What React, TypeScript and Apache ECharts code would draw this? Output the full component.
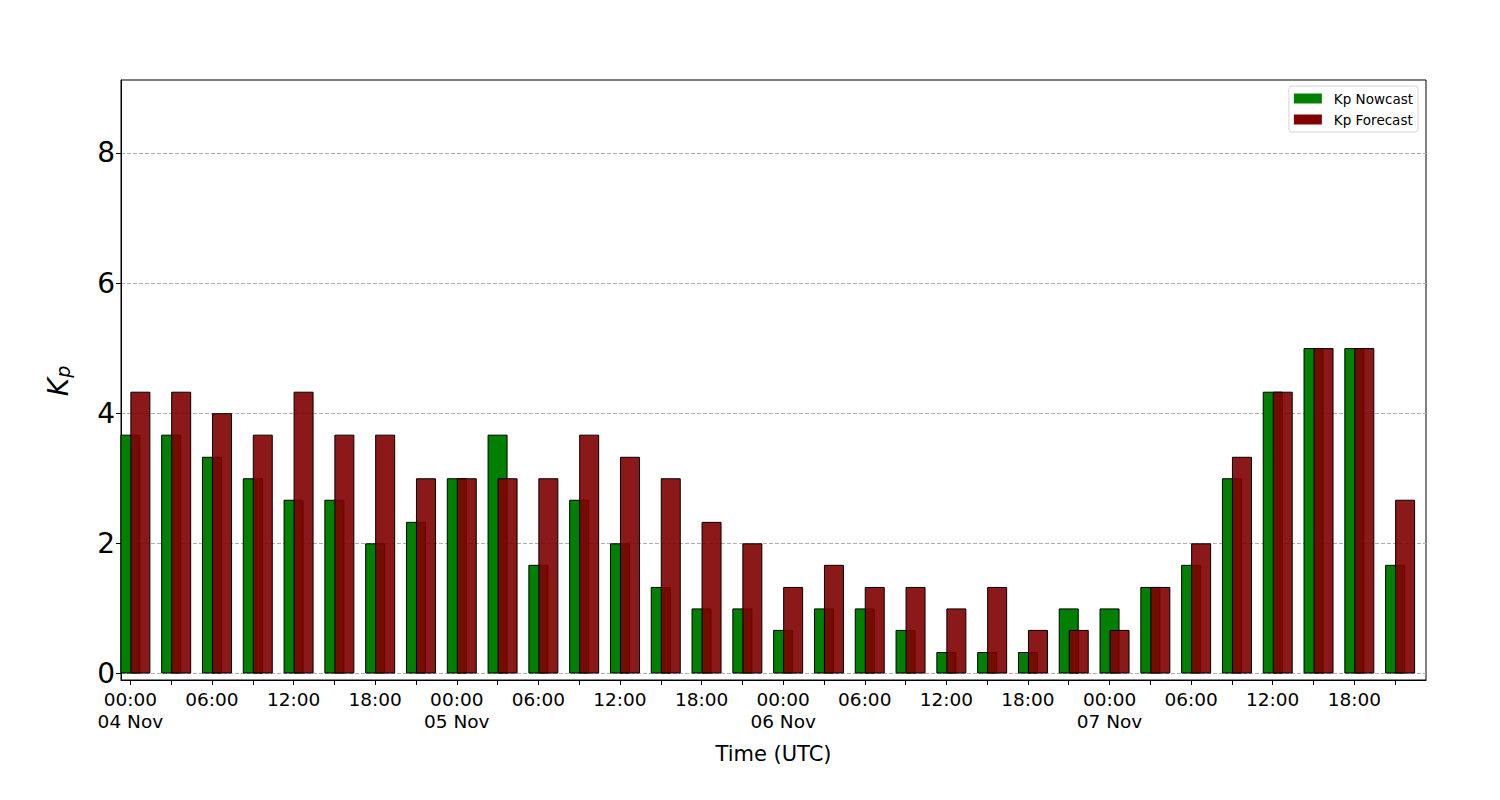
import { useEffect, useRef } from 'react'
import * as echarts from 'echarts'

// 3-hourly Kp, 04 Nov 00:00 UTC .. 07 Nov 21:00 UTC
const DAYS = ['04 Nov', '05 Nov', '06 Nov', '07 Nov']
const SLOT_HOURS = [
  0, 3, 6, 9, 12, 15, 18, 21,
  24, 27, 30, 33, 36, 39, 42, 45,
  48, 51, 54, 57, 60, 63, 66, 69,
  72, 75, 78, 81, 84, 87, 90, 93,
]
const NOWCAST = [
  3.67, 3.67, 3.33, 3.0, 2.67, 2.67, 2.0, 2.33,
  3.0, 3.67, 1.67, 2.67, 2.0, 1.33, 1.0, 1.0,
  0.67, 1.0, 1.0, 0.67, 0.33, 0.33, 0.33, 1.0,
  1.0, 1.33, 1.67, 3.0, 4.33, 5.0, 5.0, 1.67,
]
const FORECAST = [
  4.33, 4.33, 4.0, 3.67, 4.33, 3.67, 3.67, 3.0,
  3.0, 3.0, 3.0, 3.67, 3.33, 3.0, 2.33, 2.0,
  1.33, 1.67, 1.33, 1.33, 1.0, 1.33, 0.67, 0.67,
  0.67, 1.33, 2.0, 3.33, 4.33, 5.0, 5.0, 2.67,
]
const Y_TICKS = [0, 2, 4, 6, 8]
const X_LABEL_HOURS = [0, 6, 12, 18, 24, 30, 36, 42, 48, 54, 60, 66, 72, 78, 84, 90]

const FONT = 'DejaVu Sans'
const FORECAST_SHIFT = 0.735 // hours, red bars sit half a bar to the right

function hourLabel(v: number) {
  const h = Math.round(v)
  const hh = String(h % 24).padStart(2, '0') + ':00'
  if (h % 24 === 0) return hh + '\n' + DAYS[h / 24]
  return hh
}

export default function App() {
  const ref = useRef<HTMLDivElement>(null)

  useEffect(() => {
    if (!ref.current) return
    const chart = echarts.init(ref.current, undefined, { renderer: 'svg' })

    chart.setOption({
      animation: false,
      backgroundColor: '#fff',
      textStyle: { fontFamily: FONT },
      grid: {
        left: 121,
        right: 74,
        top: 80,
        bottom: 120,
        show: true,
        borderColor: '#000',
        borderWidth: 1,
        backgroundColor: 'transparent',
      },
      legend: {
        orient: 'vertical',
        right: 82,
        top: 86,
        icon: 'rect',
        itemWidth: 28,
        itemHeight: 10,
        itemGap: 6,
        padding: [5, 5, 5, 5],
        borderColor: '#d5d5d5',
        borderWidth: 1,
        borderRadius: 3,
        textStyle: {
          fontSize: 13.5,
          lineHeight: 15,
          color: '#000',
          fontFamily: FONT,
          padding: [0, 0, 0, 7],
        },
        data: [
          { name: 'Kp Nowcast', itemStyle: { color: '#008000', borderWidth: 0 } },
          { name: 'Kp Forecast', itemStyle: { color: '#800000', borderWidth: 0 } },
        ],
      },
      xAxis: {
        type: 'value',
        min: -0.69,
        max: 95.27,
        name: 'Time (UTC)',
        nameLocation: 'middle',
        nameGap: 63,
        nameTextStyle: { fontSize: 21, color: '#000', fontFamily: FONT },
        axisLine: { show: true, onZero: false, lineStyle: { color: '#000', width: 1 } },
        axisTick: {
          show: true,
          length: 5,
          lineStyle: { color: '#000' },
          customValues: SLOT_HOURS,
        },
        axisLabel: {
          customValues: X_LABEL_HOURS,
          formatter: hourLabel,
          fontSize: 18.5,
          lineHeight: 22,
          color: '#000',
          margin: 8,
          fontFamily: FONT,
        },
        splitLine: { show: false },
      },
      yAxis: {
        type: 'value',
        min: -0.1,
        max: 9.12,
        axisLine: { show: true, onZero: false, lineStyle: { color: '#000', width: 1 } },
        axisTick: {
          show: true,
          length: 5,
          lineStyle: { color: '#000' },
          customValues: Y_TICKS,
        },
        axisLabel: {
          customValues: Y_TICKS,
          fontSize: 28,
          color: '#000',
          margin: 6,
          fontFamily: FONT,
        },
        splitLine: {
          show: true,
          lineStyle: { color: '#b0b0b0', type: [4, 2], width: 1 },
        },
      },
      graphic: [
        {
          type: 'text',
          x: 58,
          y: 381,
          rotation: Math.PI / 2,
          style: {
            text: '{k|K}{p|p}',
            align: 'center',
            verticalAlign: 'middle',
            rich: {
              k: { fontSize: 28, fontStyle: 'italic', fontFamily: FONT, fill: '#000', verticalAlign: 'bottom' },
              p: {
                fontSize: 19,
                fontStyle: 'italic',
                fontFamily: FONT,
                fill: '#000',
                verticalAlign: 'bottom',
                padding: [10, 0, 0, 0],
              },
            },
          },
        },
      ],
      series: [
        {
          name: 'Kp Nowcast',
          type: 'bar',
          barWidth: 20,
          barGap: '-100%',
          clip: true,
          itemStyle: { color: '#008000', borderColor: '#000', borderWidth: 1 },
          data: SLOT_HOURS.map((h, i) => [h, NOWCAST[i]]),
        },
        {
          name: 'Kp Forecast',
          type: 'bar',
          barWidth: 20,
          barGap: '-100%',
          clip: true,
          itemStyle: { color: 'rgba(128,0,0,0.9)', borderColor: '#000', borderWidth: 1 },
          data: SLOT_HOURS.map((h, i) => [h + FORECAST_SHIFT, FORECAST[i]]),
        },
      ],
    })

    return () => chart.dispose()
  }, [])

  return <div ref={ref} style={{ width: 1500, height: 800, margin: -8 }} />
}
